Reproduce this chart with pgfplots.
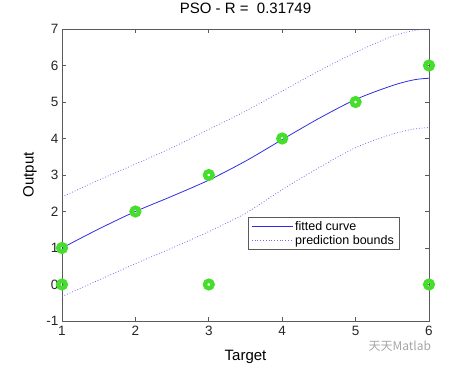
\documentclass[border=0pt]{standalone}
\usepackage{pgfplots}
\pgfplotsset{compat=1.18}
\usepackage{fontspec}
\setmainfont{Liberation Sans}
\newfontfamily\cjk{Noto Sans CJK SC}
\definecolor{fitblue}{RGB}{45,45,225}
\definecolor{mgreen}{RGB}{70,222,45}
\definecolor{axgray}{RGB}{90,90,90}
\begin{document}
\begin{tikzpicture}
\begin{axis}[
  scale only axis, at={(0,0)}, anchor=south west,
  width=367bp, height=292bp,
  xmin=1, xmax=6, ymin=-1, ymax=7,
  xtick={1,...,6}, ytick={-1,0,...,7},
  tick align=inside, tick pos=both,
  major tick length=4bp,
  axis line style={axgray, line width=0.6pt},
  every tick/.style={axgray, line width=0.6pt},
  /pgf/number format/assume math mode=true,
  ticklabel style={font=\fontsize{13.5bp}{16bp}\selectfont, text=black!85},
  xticklabel style={yshift=-2bp},
  title={PSO - R =\ \ 0.31749},
  title style={font=\fontsize{15bp}{18bp}\selectfont, at={(axis description cs:0.5,1.051)}, anchor=center},
  xlabel={Target},
  xlabel style={font=\fontsize{15bp}{18bp}\selectfont, at={(axis description cs:0.5,-0.123)}, anchor=center},
  ylabel={Output},
  ylabel style={font=\fontsize{15bp}{18bp}\selectfont, at={(axis description cs:-0.087,0.5)}, anchor=center, rotate=0},
  legend style={at={(axis description cs:0.507,0.243)}, anchor=south west,
    font=\fontsize{12.5bp}{15bp}\selectfont, draw=axgray, line width=0.6pt,
    inner xsep=3bp, inner ysep=3bp, row sep=1.5bp,
    nodes={inner xsep=2bp, inner ysep=1bp}},
  legend cell align=left,
  legend image code/.code={\draw[#1] (0bp,0bp) -- (41bp,0bp);},
  clip=false,
]
\addplot[only marks, mark=o, mark size=3.8bp, mgreen, line width=4.4bp, forget plot]
  coordinates {(1,1) (1,0) (2,2) (3,3) (3,0) (4,4) (5,5) (6,6) (6,0)};
\addplot[color=fitblue, line width=0.8pt, smooth] coordinates {
  (1,1.0) (1.5,1.52) (2,2.0) (2.5,2.42) (3,2.86) (3.5,3.38) (4,3.97)
  (4.5,4.55) (5,5.07) (5.5,5.45) (5.8,5.61) (6,5.65)};
\addlegendentry{fitted curve}
\addplot[color=fitblue!70, line width=0.8pt, dotted, smooth] coordinates {
  (1,2.4) (1.5,2.86) (2,3.3) (2.5,3.75) (3,4.25) (3.5,4.75) (4,5.3)
  (4.5,5.85) (5,6.36) (5.5,6.8) (5.8,6.96) (6,7.0)};
\addlegendentry{prediction bounds}
\addplot[color=fitblue!70, line width=0.8pt, dotted, smooth, forget plot] coordinates {
  (1,-0.33) (1.5,0.12) (2,0.57) (2.5,1.0) (3,1.45) (3.5,1.95) (4,2.6)
  (4.5,3.2) (5,3.75) (5.5,4.12) (5.8,4.26) (6,4.3)};
\end{axis}
\node[anchor=west, text=black!35, font=\fontsize{12bp}{14bp}\selectfont] at (303bp,-25bp) {\cjk 天天Matlab};
\pgfresetboundingbox
\path[use as bounding box] (-62bp,-47bp) rectangle (412bp,321bp);
\end{tikzpicture}
\end{document}
